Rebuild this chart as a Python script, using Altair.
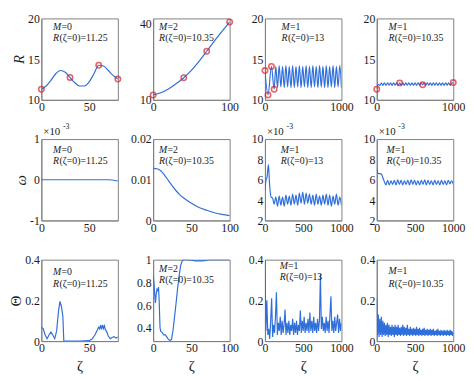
import altair as alt
import pandas as pd
import numpy as np

FONT = "Liberation Serif, Times New Roman, serif"
BLUE = "#2f6fdb"
RED = "#d9232e"
GRAY = "#7f7f7f"
INK = "#1a1a1a"
W, H = 78, 83

# ---------------- data ----------------
# Row 1: R
R1_X = [0, 5, 10, 15, 20, 25, 30, 35, 40, 45, 50, 55, 60, 65, 70, 75, 80]
R1_Y = [11.3, 11.7, 12.4, 13.2, 13.6, 13.4, 12.75, 12.1, 11.7, 11.7, 12.2, 13.2, 14.25, 14.15, 13.6, 13.0, 12.55]
R1_PX = [0, 30, 60, 80]
R1_PY = [11.3, 12.75, 14.25, 12.55]

R2_X = [0, 10, 20, 30, 40, 50, 60, 70, 80, 90, 100]
R2_Y = [11.9, 12.8, 14.3, 16.3, 18.7, 21.6, 25.1, 29.1, 33.1, 36.9, 40.6]
R2_PX = [0, 40, 70, 100]
R2_PY = [11.9, 18.7, 29.1, 40.6]

R3_X = [0, 40, 85, 120] + list(range(142, 1001, 22))
R3_Y = [13.6, 10.6, 14.1, 11.3,
        14.1, 11.5, 14.2, 11.6, 14.1, 11.5, 14.2, 11.6, 14.1, 11.5,
        14.2, 11.5, 14.1, 11.6, 14.2, 11.5, 14.1, 11.6, 14.2, 11.5,
        14.1, 11.5, 14.2, 11.6, 14.1, 11.5, 14.2, 11.6, 14.1, 11.5,
        14.2, 11.5, 14.1, 11.6, 14.2, 11.5, 14.1, 11.6, 14.2, 11.5]
R3_PX = [0, 40, 85, 120]
R3_PY = [13.6, 10.6, 14.1, 11.3]

R4_X = list(range(0, 1001, 20))
R4_Y = [11.3, 11.9, 11.75, 12.05, 11.78, 12.1, 11.78, 12.08, 11.8, 12.1,
        11.78, 12.1, 11.8, 12.08, 11.78, 12.08, 11.8, 12.1, 11.78, 12.1,
        11.8, 12.08, 11.78, 12.1, 11.8, 12.1, 11.78, 12.08, 11.8, 12.1,
        11.85, 12.1, 11.78, 12.08, 11.8, 12.1, 11.78, 12.1, 11.8, 12.08,
        11.78, 12.1, 11.8, 12.1, 11.78, 12.08, 11.8, 12.1, 11.78, 12.05,
        12.12]
R4_PX = [0, 300, 600, 1000]
R4_PY = [11.3, 12.08, 11.85, 12.12]

# Row 2: omega (panels 1, 3, 4 in units of 1e-3)
W1_X = [0, 20, 40, 60, 70, 80]
W1_Y = [0, 0, 0, 0, 0, -0.03]

W2_X = [0, 5, 10, 15, 20, 25, 30, 35, 40, 50, 60, 70, 80, 90, 100]
W2_Y = [0.0128, 0.0127, 0.0122, 0.0111, 0.0098, 0.0085, 0.0073, 0.0063, 0.0055,
        0.0042, 0.0032, 0.0025, 0.0019, 0.0015, 0.0012]

W3_X = [0, 15, 28, 45, 60, 80, 100, 120] + list(range(142, 1001, 22))
W3_Y = [5.0, 6.0, 6.3, 7.5, 5.6, 4.3, 4.2, 3.6,
        4.3, 3.4, 4.4, 3.5, 4.3, 3.4, 4.5, 3.6, 4.4, 3.5, 4.6, 3.6,
        4.5, 3.5, 4.7, 3.7, 4.8, 3.6, 4.7, 3.7, 4.6, 3.6, 4.5, 3.5,
        4.6, 3.6, 4.4, 3.5, 4.5, 3.6, 4.6, 3.5, 4.5, 3.4, 4.4, 3.6,
        4.6, 3.5, 4.3, 3.5]

W4_X = [0, 12, 25, 45, 65, 85, 105, 120] + list(range(142, 1001, 22))
W4_Y = [7.1, 6.7, 6.6, 6.6, 6.5, 6.1, 5.7, 5.5,
        5.95, 5.5, 5.9, 5.55, 5.95, 5.5, 6.0, 5.55, 5.95, 5.5, 5.9, 5.55,
        5.95, 5.5, 6.0, 5.55, 5.95, 5.5, 5.9, 5.5, 5.95, 5.55, 6.0, 5.5,
        5.95, 5.55, 5.9, 5.5, 5.95, 5.55, 5.9, 5.5, 5.95, 5.55, 5.9, 5.5,
        5.95, 5.6, 5.9, 5.55]

# Row 3: Theta
T1_X = [0, 2, 4, 6, 8, 10, 12, 14, 16, 18, 19.5, 21, 22.5, 23.5, 25, 30, 40, 50,
        53, 56, 58, 60, 61, 62, 63, 64, 65, 66, 67, 68, 70, 72, 74, 76, 78, 80]
T1_Y = [0.068, 0.06, 0.03, 0.012, 0.03, 0.044, 0.03, 0.012, 0.05, 0.15, 0.195,
        0.17, 0.12, 0.0, 0.0, 0.0, 0.0, 0.002, 0.01, 0.03, 0.05, 0.068, 0.06,
        0.078, 0.058, 0.08, 0.062, 0.075, 0.055, 0.05, 0.025, 0.012, 0.018,
        0.022, 0.015, 0.02]

T2_X = [0, 1, 2, 3, 4, 5, 6, 7, 8, 8.5, 9, 10, 12, 14, 16, 18, 20, 22, 24, 26,
        28, 30, 32, 34, 36, 38, 40, 45, 50, 55, 60, 65, 70, 75, 80, 90, 100]
T2_Y = [0.87, 0.8, 0.7, 0.62, 0.7, 0.74, 0.73, 0.76, 0.62, 0.5, 0.4, 0.37, 0.36,
        0.34, 0.34, 0.32, 0.3, 0.29, 0.3, 0.38, 0.5, 0.62, 0.75, 0.86, 0.95,
        0.99, 1.0, 1.0, 0.995, 0.99, 0.99, 0.99, 0.995, 1.0, 1.0, 1.0, 1.0]

T3_X = list(np.linspace(0, 1000, 81))
T3_Y = [0.40, 0.05, 0.20, 0.03, 0.06, 0.01, 0.10, 0.21, 0.02, 0.08,
        0.04, 0.12, 0.24, 0.03, 0.09, 0.05, 0.12, 0.03, 0.10, 0.04,
        0.08, 0.155, 0.03, 0.09, 0.04, 0.10, 0.03, 0.08, 0.05, 0.11,
        0.03, 0.09, 0.04, 0.10, 0.03, 0.08, 0.05, 0.15, 0.04, 0.10,
        0.05, 0.12, 0.04, 0.09, 0.05, 0.11, 0.04, 0.14, 0.05, 0.10,
        0.04, 0.12, 0.05, 0.09, 0.04, 0.11, 0.05, 0.10, 0.33, 0.06,
        0.12, 0.05, 0.09, 0.04, 0.12, 0.05, 0.10, 0.04, 0.13, 0.22,
        0.05, 0.10, 0.04, 0.12, 0.05, 0.09, 0.13, 0.04, 0.11, 0.05,
        0.09]

T4_X = list(range(0, 1001, 10))
T4_Y = [0.21, 0.03, 0.13, 0.02, 0.11, 0.03, 0.12, 0.02, 0.10, 0.03,
        0.09, 0.025, 0.08, 0.03, 0.09, 0.02, 0.08, 0.03, 0.07, 0.025,
        0.08, 0.03, 0.07, 0.02, 0.08, 0.03, 0.07, 0.025, 0.08, 0.03,
        0.065, 0.025, 0.07, 0.03, 0.08, 0.025, 0.07, 0.03, 0.065, 0.025,
        0.08, 0.03, 0.06, 0.025, 0.07, 0.03, 0.06, 0.025, 0.065, 0.03,
        0.06, 0.025, 0.07, 0.03, 0.06, 0.025, 0.065, 0.03, 0.055, 0.025,
        0.06, 0.03, 0.065, 0.025, 0.055, 0.03, 0.06, 0.025, 0.055, 0.03,
        0.06, 0.025, 0.055, 0.03, 0.06, 0.025, 0.05, 0.03, 0.055, 0.025,
        0.06, 0.03, 0.05, 0.025, 0.055, 0.03, 0.05, 0.025, 0.055, 0.03,
        0.05, 0.025, 0.055, 0.03, 0.05, 0.025, 0.055, 0.03, 0.05, 0.025,
        0.045]

M_LABELS = ["=0", "=2", "=1", "=1"]
R_LABELS = ["(\u03b6=0)=11.25", "(\u03b6=0)=10.35", "(\u03b6=0)=13", "(\u03b6=0)=10.35"]


def text_layer(s, x, y, size=10, style="normal"):
    return alt.Chart(pd.DataFrame({"t": [s]})).mark_text(
        align="left", baseline="alphabetic", font=FONT, fontSize=size,
        fontStyle=style, color=INK
    ).encode(text="t:N", x=alt.value(x), y=alt.value(y))


def axis(values, title=None, size=14, style="normal", pad=2):
    kw = dict(values=values, labelExpr="datum.value + ''", labelFont=FONT,
              labelFontSize=12, labelColor=INK, labelPadding=2)
    if title:
        kw.update(title=title, titleFont=FONT, titleFontSize=size,
                  titleFontStyle=style, titlePadding=pad, titleColor=INK,
                  titleFontWeight="normal")
    return alt.Axis(**kw)


def panel(x, y, xdom, ydom, xticks, yticks, col, tx, ty1, ty2,
          px=None, py=None, ytitle=None, ytitle_style="normal", xtitle=None,
          interp="monotone", exp=False):
    df = pd.DataFrame({"x": x, "y": y})
    xaxis = axis(xticks, xtitle, size=15, pad=5)
    yaxis = axis(yticks, ytitle, size=15, style=ytitle_style, pad=1)
    xs = alt.Scale(domain=xdom, nice=False, zero=False)
    ys = alt.Scale(domain=ydom, nice=False, zero=False)
    line = alt.Chart(df).mark_line(
        color=BLUE, strokeWidth=1.2, interpolate=interp, clip=True
    ).encode(
        x=alt.X("x:Q", scale=xs, axis=xaxis, title=xtitle if xtitle else None),
        y=alt.Y("y:Q", scale=ys, axis=yaxis, title=ytitle if ytitle else None),
    )
    layers = [line]
    if px is not None:
        pts = alt.Chart(pd.DataFrame({"x": px, "y": py})).mark_point(
            shape="circle", filled=False, color=RED, size=30, strokeWidth=1.6
        ).encode(x="x:Q", y="y:Q")
        layers.append(pts)
    layers.append(text_layer("M", tx, ty1, style="italic"))
    layers.append(text_layer(M_LABELS[col], tx + 8.6, ty1))
    layers.append(text_layer("R", tx, ty2, style="italic"))
    layers.append(text_layer(R_LABELS[col], tx + 6.4, ty2))
    if exp:
        layers.append(text_layer("\u00d710", 2, -4, size=11))
        layers.append(text_layer("-3", 22, -10, size=8))
    return alt.layer(*layers).properties(width=W, height=H)


panels = [
    panel(R1_X, R1_Y, [0, 80], [10, 20], [0, 50], [10, 15, 20], 0, 12, 12, 23,
          R1_PX, R1_PY, ytitle="R", ytitle_style="italic"),
    panel(R2_X, R2_Y, [0, 100], [10, 42], [0, 50, 100], [10, 20, 30, 40], 1, 6, 12, 23,
          R2_PX, R2_PY),
    panel(R3_X, R3_Y, [0, 1000], [10, 20], [0, 500, 1000], [10, 15, 20], 2, 17, 12, 23,
          R3_PX, R3_PY),
    panel(R4_X, R4_Y, [0, 1000], [10, 20], [0, 500, 1000], [10, 15, 20], 3, 12, 12, 23,
          R4_PX, R4_PY),
    panel(W1_X, W1_Y, [0, 80], [-1, 1], [0, 50], [-1, 0, 1], 0, 12, 14, 25,
          ytitle="\u03c9", ytitle_style="italic", exp=True),
    panel(W2_X, W2_Y, [0, 100], [0, 0.02], [0, 50, 100], [0, 0.01, 0.02], 1, 6, 14, 25),
    panel(W3_X, W3_Y, [0, 1000], [2, 10], [0, 500, 1000], [2, 4, 6, 8, 10], 2, 16, 14, 25,
          exp=True),
    panel(W4_X, W4_Y, [0, 1000], [2, 10], [0, 500, 1000], [2, 4, 6, 8, 10], 3, 10, 14, 25,
          exp=True),
    panel(T1_X, T1_Y, [0, 80], [0, 0.4], [0, 50], [0, 0.2, 0.4], 0, 12, 16, 28,
          ytitle="\u0398", xtitle="\u03b6", interp="linear"),
    panel(T2_X, T2_Y, [0, 100], [0.285, 1.0], [0, 50, 100], [0.4, 0.6, 0.8, 1], 1, 6, 13, 24,
          xtitle="\u03b6", interp="linear"),
    panel(T3_X, T3_Y, [0, 1000], [0, 0.4], [0, 500, 1000], [0, 0.2, 0.4], 2, 15, 9, 21,
          xtitle="\u03b6", interp="linear"),
    panel(T4_X, T4_Y, [0, 1000], [0, 0.4], [0, 500, 1000], [0, 0.2, 0.4], 3, 12, 15, 28,
          xtitle="\u03b6", interp="linear"),
]

chart = alt.concat(
    *panels, columns=4, spacing={"row": 40, "column": 36}, bounds="flush"
).properties(
    padding={"left": 0, "top": 0, "right": 0, "bottom": 0}
).configure_view(
    stroke=GRAY, strokeWidth=1
).configure_axis(
    domainColor=GRAY, domainWidth=1, ticks=False, grid=False,
    labelFont=FONT, labelFontSize=12, labelColor=INK, labelPadding=2,
    labelFlush=False, labelOverlap=False,
    titleFont=FONT, titleColor=INK, titleFontWeight="normal",
)

chart.save("out.html", embed_options={"renderer": "svg", "actions": False})
